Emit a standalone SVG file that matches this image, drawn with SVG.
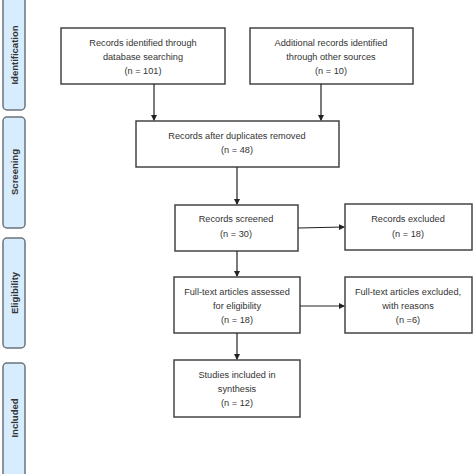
<svg xmlns="http://www.w3.org/2000/svg" width="474" height="474" viewBox="0 0 474 474">
<style>
.side{fill:#d7ecfc;stroke:#6b737c;stroke-width:1.5}
.sidet{font-family:"Liberation Sans",Arial,sans-serif;font-size:9.5px;font-weight:bold;fill:#333;text-anchor:middle}
.box{fill:#fff;stroke:#444;stroke-width:1.5}
.t{font-family:"Liberation Sans",Arial,sans-serif;font-size:9.2px;fill:#333;text-anchor:middle}
.c{stroke:#222;stroke-width:1.2;fill:none;marker-end:url(#ah)}
</style>
<defs>
<marker id="ah" markerWidth="6" markerHeight="6" refX="5" refY="3" orient="auto" markerUnits="userSpaceOnUse">
<path d="M0,0 L6,3 L0,6 Z" fill="#222"/>
</marker>
</defs>
<rect width="474" height="474" fill="#fff"/>
<g id="phase-identification"><rect class="side" x="3" y="-6" width="22" height="116" rx="4"/><text class="sidet" transform="translate(17.5,55) rotate(-90)">Identification</text></g>
<g id="phase-screening"><rect class="side" x="3" y="117" width="22" height="111" rx="4"/><text class="sidet" transform="translate(17.5,172) rotate(-90)">Screening</text></g>
<g id="phase-eligibility"><rect class="side" x="3" y="238" width="22" height="110" rx="4"/><text class="sidet" transform="translate(17.5,293) rotate(-90)">Eligibility</text></g>
<g id="phase-included"><rect class="side" x="3" y="363" width="22" height="120" rx="4"/><text class="sidet" transform="translate(17.5,418) rotate(-90)">Included</text></g>

<g id="n1"><rect class="box" x="61" y="28" width="164" height="56"/>
<text class="t" x="143" y="46">Records identified through</text><text class="t" x="143" y="60">database searching</text><text class="t" x="143" y="74">(n = 101)</text></g>
<g id="n2"><rect class="box" x="250" y="28" width="163" height="56"/>
<text class="t" x="331" y="46">Additional records identified</text><text class="t" x="331" y="60">through other sources</text><text class="t" x="331" y="74">(n = 10)</text></g>
<g id="n3"><rect class="box" x="136" y="121" width="203" height="46"/>
<text class="t" x="237" y="139">Records after duplicates removed</text><text class="t" x="237" y="153">(n = 48)</text></g>
<g id="n4"><rect class="box" x="175" y="205" width="123" height="46"/>
<text class="t" x="236" y="222">Records screened</text><text class="t" x="236" y="237">(n = 30)</text></g>
<g id="n5"><rect class="box" x="345" y="204" width="127" height="46"/>
<text class="t" x="408" y="222">Records excluded</text><text class="t" x="408" y="237">(n = 18)</text></g>
<g id="n6"><rect class="box" x="174" y="277" width="126" height="56"/>
<text class="t" x="237" y="295">Full-text articles assessed</text><text class="t" x="237" y="309">for eligibility</text><text class="t" x="237" y="323">(n = 18)</text></g>
<g id="n7"><rect class="box" x="345" y="277" width="127" height="56"/>
<text class="t" x="408" y="295">Full-text articles excluded,</text><text class="t" x="408" y="309">with reasons</text><text class="t" x="408" y="323">(n =6)</text></g>
<g id="n8"><rect class="box" x="174" y="360" width="126" height="57"/>
<text class="t" x="237" y="378">Studies included in</text><text class="t" x="237" y="392">synthesis</text><text class="t" x="237" y="406">(n = 12)</text></g>

<g id="connectors">
<line class="c" x1="154" y1="84" x2="154" y2="120"/>
<line class="c" x1="321" y1="84" x2="321" y2="120"/>
<line class="c" x1="237" y1="167" x2="237" y2="204"/>
<line class="c" x1="298" y1="228" x2="344" y2="227"/>
<line class="c" x1="237" y1="251" x2="237" y2="276"/>
<line class="c" x1="300" y1="306" x2="344" y2="306"/>
<line class="c" x1="237" y1="333" x2="237" y2="359"/>
</g>
</svg>
